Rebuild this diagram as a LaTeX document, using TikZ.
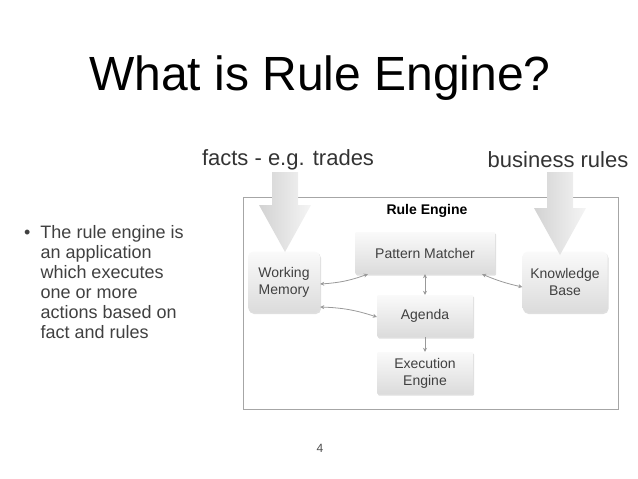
\documentclass[tikz,border=0pt]{standalone}
\usepackage{fontspec}
\setmainfont{Liberation Sans}
\usetikzlibrary{shadows,arrows.meta}
\begin{document}
\begin{tikzpicture}[x=1pt,y=-1pt,>={Stealth[length=4pt,width=4pt]},
 box/.style={draw=none,rounded corners=5pt,top color=gray!4,bottom color=gray!28,drop shadow={opacity=0.25,shadow xshift=1pt,shadow yshift=-1.5pt},text=black!75,font=\fontsize{14}{17}\selectfont,align=center,inner sep=0pt},
 sq/.style={box,rounded corners=1pt},
 conn/.style={draw=gray!80,line width=0.8pt,<->},
 conn1/.style={draw=gray!80,line width=0.8pt,->},
 big/.style={left color=gray!35,right color=gray!8,draw=none}]
\useasboundingbox (0,0) rectangle (638,479);
\node[font=\fontsize{48}{54}\selectfont] (title) at (320,78) {What is Rule Engine?};
\node[font=\fontsize{22}{26}\selectfont,text=black!80] (facts) at (288,160) {facts - e.g. trades};
\node[font=\fontsize{22}{26}\selectfont,text=black!80] (brules) at (558,160) {business rules};
\node[anchor=north west,align=left,font=\fontsize{18}{20}\selectfont,text=black!75,inner sep=0pt] (bul) at (24,225) {\textbullet\ \ The rule engine is\\\hphantom{\textbullet\ \ }an application\\\hphantom{\textbullet\ \ }which executes\\\hphantom{\textbullet\ \ }one or more\\\hphantom{\textbullet\ \ }actions based on\\\hphantom{\textbullet\ \ }fact and rules};
\node[draw=gray!70,line width=0.8pt,minimum width=375pt,minimum height=212pt,anchor=north west] (frame) at (243,197) {};
\node[font=\bfseries\fontsize{14}{17}\selectfont] (rl) at (427,211) {Rule Engine};
\node[box,minimum width=72pt,minimum height=61pt] (wm) at (284,282) {Working\\Memory};
\node[box,minimum width=85pt,minimum height=61pt] (kb) at (565,282) {Knowledge\\Base};
\node[sq,minimum width=140pt,minimum height=42pt] (pm) at (425,253) {Pattern Matcher};
\node[sq,minimum width=96pt,minimum height=42pt] (ag) at (425,316) {Agenda};
\node[sq,minimum width=96pt,minimum height=42pt] (ex) at (425,373) {Execution\\Engine};
\path[big] (272,172) -- (298,172) -- (298,205) -- (311,205) -- (285,252) -- (259,205) -- (272,205) -- cycle;
\path[big] (547,172) -- (573,172) -- (573,208) -- (586,208) -- (560,255) -- (534,208) -- (547,208) -- cycle;
\draw[conn] ([yshift=-2pt]wm.east) to[bend right=8] ([xshift=13pt]pm.south west);
\draw[conn] ([yshift=-25pt]wm.east) to[bend left=8] ([yshift=-1pt]ag.west);
\draw[conn] (pm.south) -- (ag.north);
\draw[conn1] (ag.south) -- (ex.north);
\draw[conn] ([xshift=-13pt]pm.south east) to[bend right=5] ([yshift=-5pt]kb.west);
\node[text=black!70,font=\fontsize{12}{14}\selectfont] (pg) at (320,448) {4};
\end{tikzpicture}
\end{document}
